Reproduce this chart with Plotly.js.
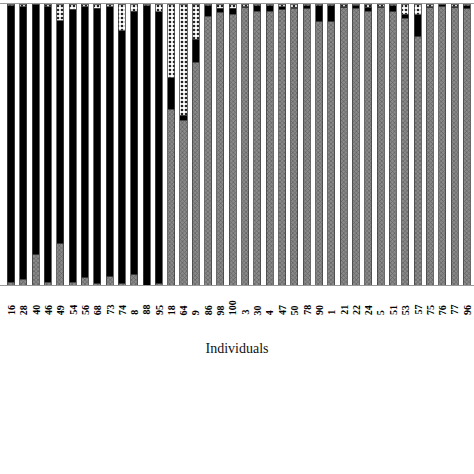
<!DOCTYPE html>
<html>
<head>
<meta charset="utf-8">
<script src="https://cdn.plot.ly/plotly-3.0.1.min.js"></script>
<style>
  html, body { margin: 0; padding: 0; background: #fff; }
  #chart { width: 474px; height: 474px; }
</style>
</head>
<body>
<div id="chart"></div>
<script>
// individuals, in plotted order
let individuals = ['16','28','40','46','49','54','56','68','73','74','8','88','95','18','64','9','86','98','100',
                   '3','30','4','47','50','78','90','1','21','22','24','5','51','53','57','75','76','77','96'];

// membership fractions, bottom to top
let cluster_gray = [0.010,0.020,0.107,0.010,0.146,0.010,0.025,0.005,0.030,0.005,0.036,0.000,0.005,0.626,0.587,0.793,0.957,0.970,0.964,
                    0.987,0.975,0.975,0.980,0.985,0.983,0.936,0.936,0.987,0.985,0.975,0.987,0.973,0.950,0.883,0.987,0.990,0.987,0.983];
let cluster_black = [0.983,0.970,0.893,0.980,0.794,0.972,0.965,0.980,0.960,0.899,0.939,0.993,0.968,0.111,0.018,0.082,0.036,0.015,0.021,
                     0.003,0.018,0.018,0.010,0.003,0.010,0.057,0.057,0.003,0.010,0.013,0.003,0.020,0.014,0.078,0.003,0.008,0.003,0.010];
let cluster_white = [0.007,0.010,0.000,0.010,0.060,0.018,0.010,0.015,0.010,0.096,0.025,0.007,0.027,0.263,0.395,0.125,0.007,0.015,0.015,
                     0.010,0.007,0.007,0.010,0.012,0.007,0.007,0.007,0.010,0.005,0.012,0.010,0.007,0.036,0.039,0.010,0.002,0.010,0.007];

let outline = { color: '#444', width: 0.8 };

let gray = {
    x: individuals,
    y: cluster_gray,
    type: 'bar',
    name: 'K2',
    marker: {
        color: '#8a8a8a',
        line: outline,
        pattern: { shape: 'x', bgcolor: '#8a8a8a', fgcolor: '#5e5e5e', size: 3, solidity: 0.4 }
    }
};

let black = {
    x: individuals,
    y: cluster_black,
    type: 'bar',
    name: 'K1',
    marker: { color: '#000', line: outline }
};

let white = {
    x: individuals,
    y: cluster_white,
    type: 'bar',
    name: 'K3',
    marker: {
        color: '#fff',
        line: outline,
        pattern: { shape: '.', bgcolor: '#fff', fgcolor: '#222', size: 4, solidity: 0.35 }
    }
};

// tick labels, rotated and aligned at their bottom end like the original
// (x given as the category index so numeric-looking names are not misread)
let label_notes = individuals.map(function (name, i) {
    return {
        x: i,
        xref: 'x',
        y: -0.114,
        yref: 'paper',
        yanchor: 'bottom',
        xanchor: 'center',
        textangle: -90,
        text: name,
        showarrow: false,
        font: { family: 'Liberation Serif', size: 10, color: '#000', weight: 'bold' }
    };
});

let layout = {
    width: 474,
    height: 474,
    margin: { l: 0, r: 0, t: 4, b: 189 },
    paper_bgcolor: '#fff',
    plot_bgcolor: '#fff',
    barmode: 'stack',
    bargap: 0.43,
    showlegend: false,
    font: { family: 'Liberation Serif', color: '#111' },
    xaxis: {
        type: 'category',
        range: [-0.893, 37.58],
        showticklabels: false,
        ticks: '',
        showgrid: false,
        showline: true,
        linecolor: '#999',
        linewidth: 1,
        mirror: true,
        title: { text: 'Individuals', font: { family: 'Liberation Serif', size: 14, color: '#111' }, standoff: 58 }
    },
    yaxis: {
        range: [0, 1],
        showticklabels: false,
        ticks: '',
        showgrid: false,
        zeroline: false,
        showline: true,
        linecolor: '#999',
        linewidth: 1
    },
    annotations: label_notes
};

Plotly.newPlot('chart', [gray, black, white], layout, { displayModeBar: false, staticPlot: true });
</script>
</body>
</html>
